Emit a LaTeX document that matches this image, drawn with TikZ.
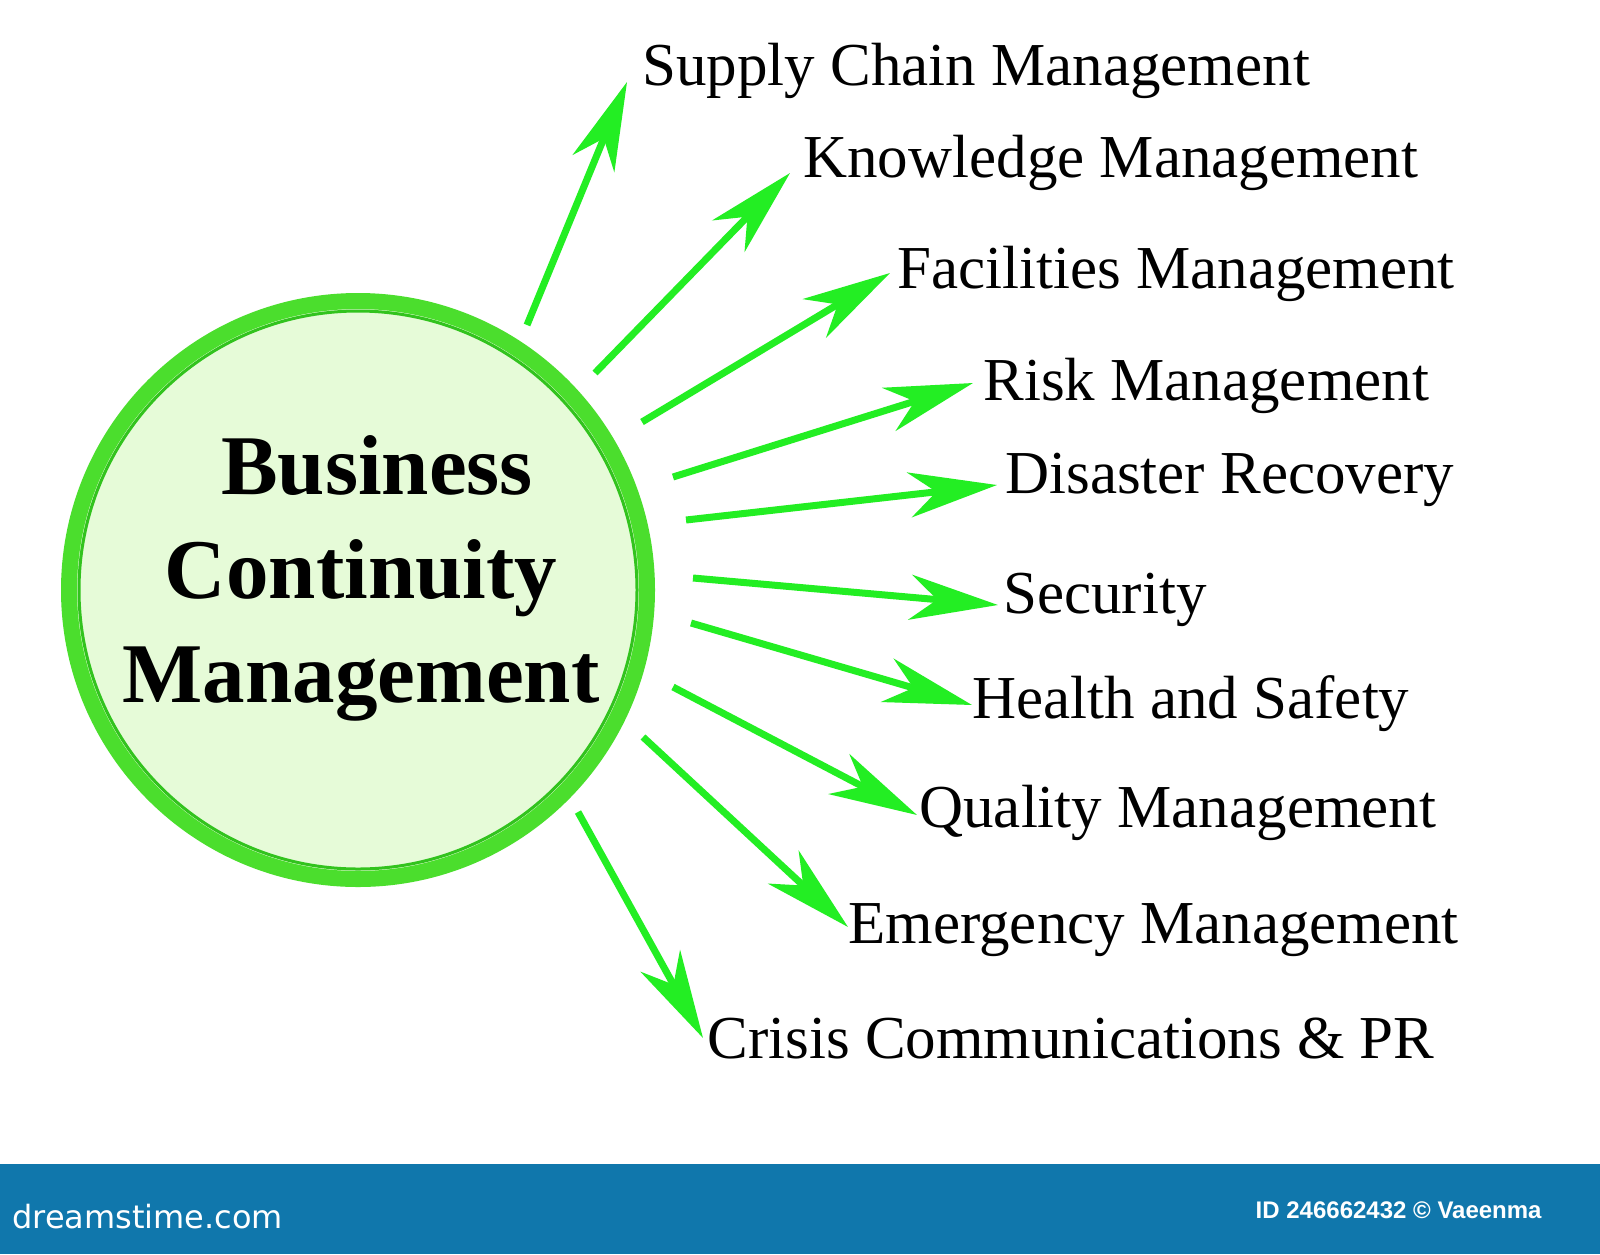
\documentclass[tikz,border=0pt]{standalone}
\usepackage{fontspec}
\setmainfont{Liberation Serif}
\newfontfamily\bannerfont{DejaVu Sans}
\newfontfamily\creditfont{Liberation Sans}
\usetikzlibrary{arrows.meta, positioning}
\definecolor{arrowgreen}{RGB}{35,238,35}
\definecolor{ringgreen}{RGB}{75,222,45}
\definecolor{ringdark}{RGB}{50,195,30}
\definecolor{hubfill}{RGB}{230,251,216}
\definecolor{bannerblue}{RGB}{16,119,172}
\tikzstyle{hub} = [circle, minimum size=289pt, inner sep=0pt, draw=ringgreen, line width=8pt, fill=hubfill]
\tikzstyle{title} = [align=center, inner sep=0pt, font=\bfseries\fontsize{42.5pt}{52pt}\selectfont]
\tikzstyle{item} = [anchor=base west, inner sep=0pt, font=\fontsize{30.5pt}{36pt}\selectfont]
\tikzstyle{arrow} = [arrowgreen, line width=3.5pt, -{Stealth[length=44pt, width=22.5pt, inset=13.5pt]}]
\tikzstyle{bannertext} = [white, inner sep=0pt]
\begin{document}
\begin{tikzpicture}[x=0.5pt, y=-0.5pt]
		\useasboundingbox (0,0) rectangle (1600,1254);
		\fill [white] (0,0) rectangle (1600,1164);
		% central circle
		\node (hub) [hub] at (358,590) {};
		\draw [ringdark, line width=1.5pt] (hub.center) circle [radius=139.5pt];
		\node (title) [title] at (361,578) {\hspace*{16pt}Business\\Continuity\\Management};
		% labels
		\node (l1) [item] at (642,85) {Supply Chain Management};
		\node (l2) [item] at (803,177) {Knowledge Management};
		\node (l3) [item] at (897,288) {Facilities Management};
		\node (l4) [item] at (983,400) {Risk Management};
		\node (l5) [item] at (1005,493) {Disaster Recovery};
		\node (l6) [item] at (1003,613) {Security};
		\node (l7) [item] at (972,718) {Health and Safety};
		\node (l8) [item] at (919,827) {Quality Management};
		\node (l9) [item] at (848,943) {Emergency Management};
		\node (l10) [item] at (707,1058) {Crisis Communications \& PR};
		% arrow starts
		\coordinate (s1) at (527,325);
		\coordinate (s2) at (595,373);
		\coordinate (s3) at (642,422);
		\coordinate (s4) at (673,477);
		\coordinate (s5) at (686,520);
		\coordinate (s6) at (693,578);
		\coordinate (s7) at (691,623);
		\coordinate (s8) at (673,687);
		\coordinate (s9) at (643,737);
		\coordinate (s10) at (578,812);
		\draw [arrow] (s1) -- ([shift={(-15,-3)}]l1.base west);
		\draw [arrow] (s2) -- ([shift={(-13,-4)}]l2.base west);
		\draw [arrow] (s3) -- ([shift={(-7,-15)}]l3.base west);
		\draw [arrow] (s4) -- ([shift={(-10,-17)}]l4.base west);
		\draw [arrow] (s5) -- ([shift={(-8,-8)}]l5.base west);
		\draw [arrow] (s6) -- ([shift={(-5,-8)}]l6.base west);
		\draw [arrow] (s7) -- ([shift={(0,-13)}]l7.base west);
		\draw [arrow] (s8) -- ([shift={(-2,-12)}]l8.base west);
		\draw [arrow] (s9) -- ([shift={(0,-16)}]l9.base west);
		\draw [arrow] (s10) -- ([shift={(-4,-20)}]l10.base west);
		% banner
		\fill [bannerblue] (0,1164) rectangle (1600,1254);
		\node (site) [bannertext, anchor=west, font=\bannerfont\fontsize{16pt}{18pt}\selectfont] at (12,1217) {dreamstime.com};
		\node (credit) [bannertext, anchor=east, font=\creditfont\bfseries\fontsize{12pt}{14pt}\selectfont] at (1542,1210) {ID 246662432 © Vaeenma};
	\end{tikzpicture}
\end{document}
